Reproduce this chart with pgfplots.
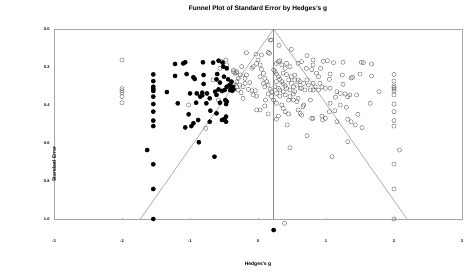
\documentclass[border=0pt]{standalone}
\usepackage{pgfplots}
\pgfplotsset{compat=1.18}
\usepackage{fontspec}
\setmainfont{Liberation Sans}
\begin{document}
\begin{tikzpicture}
\begin{axis}[
  scale only axis, width=408bp, height=190bp,
  xmin=-3, xmax=3, ymin=0, ymax=1, y dir=reverse,
  clip=false,
  axis line style={draw=gray!70, line width=0.6pt},
  xtick={-3,-2,-1,0,1,2,3},
  ytick={0,0.2,0.4,0.6,0.8,1.0},
  xtick pos=bottom, ytick pos=left,
  major tick length=1.5pt,
  tick style={draw=gray!60, line width=0.4pt},
  ytick style={draw=none},
  /pgf/number format/assume math mode=true,
  yticklabel style={/pgf/number format/fixed, /pgf/number format/fixed zerofill, /pgf/number format/precision=1, font=\fontsize{4}{5}\selectfont\bfseries, xshift=-1pt},
  xticklabel style={font=\fontsize{4}{5}\selectfont\bfseries, yshift=-17bp},
  xlabel={Hedges's g}, ylabel={Standard Error},
  xlabel style={font=\fontsize{5}{6}\selectfont\bfseries, at={(axis description cs:0.5,0)}, anchor=center, yshift=-45bp},
  ylabel style={font=\fontsize{5}{6}\selectfont\bfseries, at={(axis description cs:0,0.5)}, anchor=center, xshift=-40bp},
  title={Funnel Plot of Standard Error by Hedges's g},
  title style={font=\fontsize{6.6}{8}\selectfont\bfseries, at={(axis description cs:0.5,1)}, anchor=center, yshift=14bp},
]
\coordinate (bl) at (rel axis cs:0,0);
% funnel
\addplot[gray!80, line width=0.5pt] coordinates {(-1.73,1) (0.23,0) (2.19,1)};
\addplot[gray!90, line width=0.7pt] coordinates {(0.23,0) (0.23,1)};
% open (observed) studies
\addplot[only marks, mark=o, mark size=2.1bp, draw=gray!80!black, mark options={line width=0.4pt}] coordinates {
(-2.0,0.163)(-2.0,0.314)(-2.0,0.325)(-2.0,0.335)(-2.0,0.356)(-2.0,0.388)
(-1.02,0.400)(-0.77,0.523)(-0.66,0.268)(-0.58,0.374)(-0.56,0.207)(-0.53,0.172)
(-0.47,0.163)(-0.46,0.189)(-0.36,0.225)(-0.32,0.230)(-0.29,0.260)(-0.36,0.295)
(-0.31,0.304)(-0.29,0.321)
(0.18,0.058)(0.20,0.058)(0.31,0.086)(0.49,0.107)(-0.17,0.125)(-0.03,0.132)
(0.05,0.137)(0.15,0.123)(0.17,0.128)(0.72,0.140)(0.64,0.172)(0.81,0.163)
(0.96,0.170)(1.02,0.167)(1.11,0.177)(1.25,0.175)(1.52,0.175)(1.55,0.177)
(1.67,0.184)
(2.0,0.239)(2.0,0.274)(2.0,0.300)(2.0,0.308)(2.0,0.316)(2.0,0.326)(2.0,0.347)
(2.0,0.395)(2.0,0.435)(2.0,0.482)(2.0,0.511)(2.08,0.637)(2.0,0.711)(2.0,0.842)(2.0,1.0)
(0.39,1.023)
(1.78,0.330)(1.65,0.391)(1.67,0.247)(1.50,0.237)(1.39,0.254)(1.37,0.258)
(1.24,0.242)(1.25,0.291)(1.06,0.237)(1.05,0.265)(0.86,0.232)(0.89,0.251)
(0.79,0.214)(0.92,0.207)(0.59,0.181)(0.81,0.189)(0.71,0.207)(0.47,0.198)
(0.42,0.181)(0.40,0.207)(0.32,0.167)(0.30,0.172)(0.27,0.181)(0.35,0.189)
(0.37,0.232)(0.42,0.240)(0.49,0.251)(0.54,0.242)(0.59,0.268)(0.62,0.277)
(0.64,0.312)(0.69,0.321)(0.77,0.321)(0.81,0.321)(0.89,0.321)(1.06,0.312)
(1.16,0.330)(1.21,0.339)(1.28,0.342)(1.35,0.347)(1.45,0.347)(1.32,0.356)
(1.14,0.359)(1.06,0.391)(1.21,0.400)(1.30,0.412)(1.13,0.430)(1.05,0.435)
(1.47,0.449)(1.32,0.475)(1.37,0.488)(1.43,0.505)(1.53,0.519)(1.16,0.488)
(0.99,0.470)(0.95,0.479)(0.94,0.458)(0.81,0.470)(0.79,0.470)(0.62,0.444)
(0.64,0.453)(0.67,0.400)(0.66,0.409)(0.59,0.426)(0.77,0.374)(0.59,0.365)
(0.45,0.374)(0.40,0.435)(0.45,0.447)(0.30,0.458)(0.27,0.475)(0.43,0.505)
(0.72,0.561)(0.47,0.625)(1.09,0.672)(1.32,0.593)(0.15,0.447)(0.10,0.405)
(0.11,0.374)(0.03,0.426)(-0.02,0.426)(-0.07,0.347)(-0.22,0.365)(-0.25,0.335)
(-0.22,0.304)(-0.14,0.318)(-0.09,0.325)(-0.04,0.325)(-0.02,0.353)(-0.12,0.282)
(-0.19,0.286)(-0.27,0.295)(-0.31,0.277)(-0.34,0.233)(-0.31,0.225)(-0.26,0.242)
(-0.19,0.260)(-0.17,0.242)(-0.09,0.207)(-0.07,0.198)(-0.02,0.181)(0.00,0.163)
(0.03,0.189)(0.05,0.212)(0.08,0.233)(0.03,0.251)(0.10,0.260)(0.13,0.277)
(0.08,0.286)(0.15,0.295)(0.18,0.318)(0.20,0.330)(0.15,0.342)(0.20,0.356)
(0.10,0.304)(0.23,0.216)(0.25,0.225)(0.27,0.237)(0.30,0.251)(0.32,0.265)
(0.35,0.277)(0.37,0.289)(0.40,0.300)(0.42,0.312)(0.47,0.321)(0.52,0.304)
(0.49,0.286)(0.45,0.268)(0.54,0.268)(0.57,0.295)(0.62,0.312)(0.67,0.286)
(0.72,0.268)(0.74,0.295)(0.81,0.286)(0.84,0.304)(0.91,0.286)(0.94,0.304)
(0.99,0.312)(0.27,0.277)(0.25,0.304)(0.30,0.312)(0.32,0.321)(0.37,0.330)
(0.27,0.339)(0.32,0.353)(0.40,0.347)(0.47,0.356)(0.52,0.342)(0.54,0.330)
(0.23,0.374)(0.27,0.391)(0.35,0.400)(0.37,0.418)(0.52,0.374)(0.57,0.382)
(-0.24,0.198)(-0.36,0.216)
};
% filled (imputed) studies
\addplot[only marks, mark=*, mark size=2.1bp, black] coordinates {
(-1.54,0.239)(-1.54,0.274)(-1.54,0.304)(-1.54,0.316)(-1.54,0.326)(-1.54,0.356)
(-1.54,0.395)(-1.54,0.435)(-1.54,0.482)(-1.54,0.511)(-1.54,0.712)(-1.54,0.842)
(-1.54,1.0)(-1.63,0.637)
(-1.34,0.332)(-1.22,0.184)(-1.22,0.247)(-1.18,0.391)(-1.10,0.181)(-1.07,0.175)
(-1.05,0.237)(-1.07,0.518)(-1.02,0.449)(-1.00,0.339)(-0.98,0.511)(-0.95,0.254)
(-0.93,0.263)(-0.95,0.496)(-0.91,0.388)(-0.90,0.339)(-0.88,0.479)(-0.87,0.596)
(-0.85,0.356)(-0.82,0.349)(-0.81,0.175)(-0.80,0.242)(-0.80,0.289)(-0.82,0.335)
(-0.76,0.391)(-0.75,0.339)(-0.71,0.365)(-0.70,0.430)(-0.71,0.488)(-0.66,0.177)
(-0.64,0.672)(-0.63,0.330)(-0.61,0.265)(-0.61,0.347)(-0.61,0.444)(-0.60,0.237)
(-0.58,0.167)(-0.58,0.318)(-0.56,0.282)(-0.56,0.388)(-0.53,0.479)(-0.53,0.326)
(-0.52,0.177)(-0.51,0.198)(-0.50,0.251)(-0.49,0.321)(-0.48,0.374)(-0.47,0.461)
(-0.47,0.488)(-0.46,0.304)(-0.46,0.207)(-0.44,0.265)(-0.42,0.295)(-0.41,0.321)
(-0.39,0.277)(-0.38,0.325)(-0.36,0.318)(-0.49,0.479)(-0.50,0.475)(-0.46,0.382)
(-0.47,0.395)(-0.40,0.300)(-0.37,0.305)
(0.23,1.058)
};
\end{axis}
\pgfresetboundingbox
\path (bl) ++(-54bp,-55bp) rectangle ++(474bp,274bp);
\end{tikzpicture}
\end{document}
